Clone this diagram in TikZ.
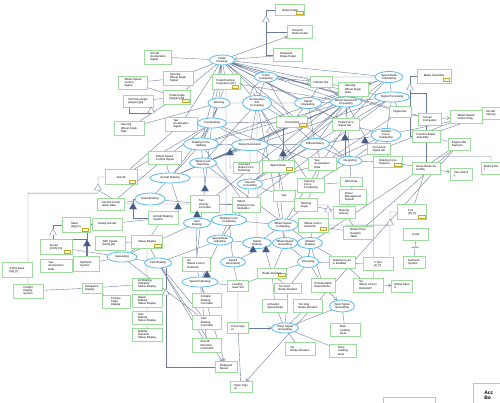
\documentclass[tikz,border=0pt]{standalone}
\usepackage{fontspec}
\setmainfont{Liberation Sans}
\usetikzlibrary{arrows.meta}
\usetikzlibrary{shapes.geometric}
\usetikzlibrary{shadows}
\definecolor{boxgreen}{rgb}{0.62, 0.86, 0.62}
\definecolor{ellblue}{rgb}{0.36, 0.74, 0.93}
\definecolor{linegray}{rgb}{0.42, 0.48, 0.6}
\definecolor{triblue}{rgb}{0.27, 0.36, 0.53}
\definecolor{notebrown}{rgb}{0.78, 0.66, 0.15}
\pgfdeclarelayer{bg}
\pgfsetlayers{bg,main}

\tikzset{
  box/.style={draw=boxgreen, line width=0.8pt, fill=white, align=left, inner sep=1pt,
    minimum width=13mm, minimum height=6mm,
    drop shadow={shadow xshift=0.45mm, shadow yshift=-0.45mm, fill=gray!60, opacity=1}},
  note/.style={path picture={\draw[notebrown, fill=yellow!15, line width=0.4pt]
    ([shift={(-4mm,0.7mm)}]path picture bounding box.south east) rectangle
    ([shift={(-0.9mm,2.2mm)}]path picture bounding box.south east);}},
  proc/.style={ellipse, draw=ellblue, line width=1.2pt, fill=white, align=center,
    inner sep=0pt, minimum width=12mm, minimum height=5mm},
  gen/.style={isosceles triangle, shape border rotate=90, isosceles triangle apex angle=60,
    draw=linegray, fill=white, line width=0.5pt, inner sep=0pt, minimum height=3mm},
  comp/.style={gen, draw=triblue, fill=triblue},
  conn/.style={draw=linegray, line width=0.55pt},
  navi/.style={conn, -{Straight Barb[length=1.2mm, width=1.8mm]}},
}

\begin{document}
\begin{tikzpicture}[x=0.5mm, y=-0.5mm, every node/.style={font=\fontsize{4}{4.5}\selectfont}]

\useasboundingbox (0,0) rectangle (500,402);
\clip (0,0) rectangle (500,402);

% brake pedal
\node[box, note, minimum width=14.5mm, minimum height=5.5mm] (brakepedal) at (290,10) {Brake Pedal};
\node[box, minimum width=12.5mm, minimum height=6.5mm] (pressed) at (300,32) {Pressed\\Brake Pedal};
\node[box, minimum width=14.5mm, minimum height=6.5mm] (released) at (288,55) {Released\\Brake Pedal};
\node[gen] (t1) at (266,20) {};

% signals, top left
\node[box, minimum width=13.5mm, minimum height=7mm] (acsig) at (158,57) {Aircraft\\Acceleration\\Signal};
\node[box, minimum width=14.5mm, minimum height=6.5mm] (wscsig) at (133,83) {Wheel Speed\\Control\\Signal};
\node[box, minimum width=15mm, minimum height=7mm] (swasig) at (178,78) {Steering\\Wheel Angle\\Signal};
\node[box, minimum width=15mm, minimum height=6mm] (oilangle) at (138,101) {Oil Press Angle\\{}[degree] [pl]};
\node[box, note, minimum width=13.5mm, minimum height=7mm] (pedalangle) at (177,97) {Pedal Angle\\{}[degree] [pl]};
\node[box, minimum width=15mm, minimum height=7mm] (swarate) at (129,128) {Steering\\Wheel Angle\\Rate};
\node[box, minimum width=16mm, minimum height=7mm] (yawsig) at (181,124) {Yaw\\Acceleration\\Signal};
\node[box, note, minimum width=14mm, minimum height=7.5mm] (ppfreq) at (226,82) {Pedal Pushing\\Frequency [Hz]};
\node[gen] (t3) at (151,111) {};

% top middle
\node[proc, minimum width=12.5mm] (pedalpress) at (222,60) {Pedal\\Pressing};
\node[proc, minimum width=11.5mm] (countcomp) at (266,77) {Count\\Computing};
\node[proc, minimum width=11mm] (warning) at (219,103) {Warning};
\node[proc, minimum width=14.5mm, minimum height=7.5mm] (accad) at (257,103) {Acceleration\\A/D\\Converting};
\node[proc, minimum width=13.5mm, minimum height=5.5mm] (sigrep) at (308,103) {Signal\\Repeating};
\node[proc, minimum width=14.5mm] (coord) at (212,123) {Coordinating};
\node[box, minimum width=11mm, minimum height=5.5mm] (filtered) at (321,82) {Filtered Out};
\node[box, note, minimum width=15.5mm, minimum height=5.5mm] (commands) at (292,122) {Commands};
\node[gen] (t9) at (254,91) {};
\node[gen] (t15) at (270,131) {};

% top right
\node[box, minimum width=15mm, minimum height=7mm] (swadata) at (353,89) {Steering\\Wheel Angle\\Data};
\node[proc, minimum width=15mm] (wsad) at (346,102) {Wheel Speed A/D\\Converting};
\node[proc, minimum width=14mm, minimum height=5.5mm] (sdcalc) at (389,77) {Speed Delta\\Calculating};
\node[proc, minimum width=17.5mm] (sigproc) at (392,97) {Signal Processing};
\node[box, note, minimum width=17mm, minimum height=7mm] (brakeasm) at (434,76) {Brake Assembly};
\node[gen] (t2) at (410,88) {};
\node[box, minimum width=11mm, minimum height=5.5mm] (digital) at (400,112) {Digital Set};
\node[box, minimum width=11.5mm, minimum height=6mm] (screen) at (430,119) {Screen\\Computers};
\node[box, minimum width=16mm, minimum height=6.5mm] (wscflag) at (466,117) {Wheel Speed\\Control Flag};
\node[box, minimum width=9mm, minimum height=6mm] (acvel) at (491,113) {Aircraft\\Velocity};
\node[box, minimum width=13.5mm, minimum height=6mm] (pfsig) at (346,124) {Pedal Force\\Signal Set};
\node[proc, minimum width=15mm, minimum height=6.5mm] (antiskid) at (386,135) {Antiskid\\Force\\Computing};
\node[box, minimum width=14mm, minimum height=6mm] (funcasm) at (426,136) {Function Brake\\Assembly};
\node[box, minimum width=11mm, minimum height=6mm] (engine) at (459,144) {Engine Idle\\Stall pos};
\node[box, minimum width=11.5mm, minimum height=5.5mm] (convsig) at (379,149) {Converted\\Signal Set};
\node[proc, minimum width=12mm, minimum height=4.5mm] (integrating) at (350,161) {Integrating};
\node[box, note, minimum width=14.5mm, minimum height=5.5mm] (bfreq) at (388,162) {Braking Force\\Request};
\node[box, minimum width=14mm, minimum height=6mm] (activeasm) at (426,168) {Active Brake As\\sembly};
\node[box, minimum width=11mm, minimum height=6mm] (yawvel) at (461,174) {Yaw Velocit\\y};
\node[box, minimum width=9.5mm, minimum height=6mm] (brakedist) at (491,168) {Braking Dis\\t};
\node[comp] (f9) at (345,138) {};
\node[comp] (f10) at (365,141) {};

% centre
\node[box, minimum width=16.5mm, minimum height=6.5mm] (wscsig2) at (165,158) {Wheel Speed\\Control Signal};
\node[proc, minimum width=17.5mm, minimum height=6mm] (bfsplit) at (201,144) {Braking Force\\Splitting};
\node[proc, minimum width=13.5mm] (wldetect) at (203,163) {Wheel Lock\\Detecting};
\node[proc, minimum width=20mm] (acbraking) at (170,178) {Aircraft Braking};
\node[proc, minimum width=18.5mm, minimum height=5.5mm] (siggen) at (250,145) {Signal Generation};
\node[box, minimum width=13mm, minimum height=5.5mm] (unlocked) at (246,168) {Unlocked\\Brake Force\\Detecting};
\node[box, note, minimum width=16mm, minimum height=6mm] (speeddelta) at (278,166) {Speed Delta};
\node[proc, minimum width=14.5mm, minimum height=5.5mm] (diff) at (315,144) {Differentiating};
\node[box, minimum width=14mm, minimum height=6.5mm] (yawacdata) at (322,164) {Yaw\\Acceleration\\Data};
\node[proc, minimum width=12.5mm] (yawad) at (250,184) {Yaw A/D\\Converting};
\node[box, minimum width=11mm, minimum height=5.5mm] (yaw) at (284,196) {Yaw};
\node[box, minimum width=13.5mm, minimum height=7mm] (sfcomp) at (311,185) {Steering\\Force\\Computing};
\node[box, minimum width=11.5mm, minimum height=6.5mm] (steerangle) at (306,205) {Steering\\Angle};
\node[box, minimum width=11mm, minimum height=4.5mm] (absdata) at (351,182) {ABS Data};
\node[box, minimum width=13.5mm, minimum height=7.5mm] (powermgmt) at (353,197) {Power\\Management\\System};
\node[box, minimum width=11mm, minimum height=6mm] (steervel) at (344,212) {Steering\\Velocity};
\node[gen] (t11) at (328,210) {};
\node[comp] (f1) at (230,153) {};
\node[comp] (f2) at (283,154) {};

\node[box, minimum width=14.5mm, minimum height=8.5mm] (taxivel) at (205,204) {Taxi\\Velocity\\Controller};
\node[box, minimum width=14mm, minimum height=7.5mm] (wbfmod) at (246,205) {Wheel\\Braking Force\\Modulator};
\node[proc, minimum width=13.5mm] (autobrk) at (197,223) {Auto\\Braking};
\node[proc, minimum width=17.5mm, minimum height=5.5mm] (bfcomp) at (229,220) {Braking Force\\Computing};
\node[proc, minimum width=15mm, minimum height=6mm] (wscomp) at (283,225) {Wheel Speed\\Computing};
\node[box, note, minimum width=15mm, minimum height=7mm] (wldetected) at (313,225) {Wheel Lock is\\Detected};
\node[proc, minimum width=13mm] (sdadjust) at (220,240) {Speed Delta\\Adjusting};
\node[proc, minimum width=14.5mm, minimum height=5.5mm] (sigfilt) at (257,243) {Signal\\Filtering};
\node[proc, minimum width=12.5mm, minimum height=5.5mm] (wsgen) at (285,243) {Wheel Speed\\Generating};
\node[proc, minimum width=12.5mm, minimum height=5.5mm] (askbrk) at (310,243) {Antiskid\\Braking};
\node[box, minimum width=15mm, minimum height=6.5mm] (pulsetable) at (358,233) {Brake Pulse\\Duration\\Table};
\node[comp] (f3) at (205,189) {};
\node[comp] (f4) at (178,207) {};
\node[comp] (f5) at (197,215) {};

% tyre and pulse
\node[box, note, minimum width=14.5mm, minimum height=7.5mm] (tyre) at (412,212) {Tyre\\{}[\%] [?]};
\node[gen] (t6) at (390,223) {};
\node[box, minimum width=12.5mm, minimum height=6mm] (pulse) at (416,234) {Pulse};
\node[box, minimum width=11mm, minimum height=6mm] (hydraulic) at (414,262) {Hydraulic\\System};
\node[box, minimum width=15mm, minimum height=6.5mm] (ntyre) at (378,264) {\# Tyre\\{}[s] [?]};

% left side
\node[box, note, minimum width=16mm, minimum height=7.5mm] (aircraft) at (121,177) {Aircraft};
\node[gen] (t4) at (98,188) {};
\node[proc, minimum width=15mm, minimum height=6mm] (pedalbrk) at (150,199) {Pedal Braking};
\node[box, minimum width=13.5mm, minimum height=6mm] (acaccdata) at (111,204) {Aircraft Accele\\ration Data};
\node[box, minimum width=15mm, minimum height=6.5mm] (acbrakesys) at (163,218) {Aircraft Braking\\System};
\node[box, minimum width=15mm, minimum height=6mm] (taxiing) at (107,224) {Taxiing Aircraft};
\node[box, note, minimum width=14mm, minimum height=7.5mm] (mass) at (76,225) {Mass\\{}[kg] [m]};
\node[gen] (t5) at (53,233) {};
\node[box, minimum width=15mm, minimum height=7mm] (absspeed) at (110,243) {ABS Speed\\{}[km/h] [kt]};
\node[comp] (f8) at (87,244) {};
\node[comp] (f6) at (133,207) {};
\node[box, note, minimum width=16mm, minimum height=7.5mm] (speed) at (56,247) {Speed\\{}[km/h] [m]};
\node[box, note, minimum width=15.5mm, minimum height=6.5mm] (statusdisp) at (147,242) {Status Display};
\node[proc, minimum width=15mm] (separating) at (122,257) {Separating};
\node[proc, minimum width=13.5mm] (parkbrk) at (158,263) {Park Braking};
\node[box, minimum width=16mm, minimum height=6.5mm] (yawacrate) at (56,266) {Yaw\\Acceleration\\Rate};
\node[box, minimum width=13mm, minimum height=7.5mm] (hydraulic2) at (86,264) {Hydraulic\\System};
\node[box, minimum width=15mm, minimum height=7.5mm] (stds) at (17,270) {STDS Base\\{}[kg] [?]};

% displays
\node[box, minimum width=15mm, minimum height=7mm] (cockpit) at (28,291) {Cockpit\\Display\\System};
\node[box, minimum width=10mm, minimum height=5mm] (navdisp) at (92,288) {Navigation\\Display};
\node[box, minimum width=14mm, minimum height=6.5mm] (pfd) at (116,302) {Primary\\Flight\\Display};
\node[box, minimum width=15mm, minimum height=6mm] (airbrkdisp) at (147,284) {Air Braking\\Indication\\Status Display};
\node[box, minimum width=15mm, minimum height=6.5mm] (rapiddisp) at (147,301) {Rapid\\Braking\\Status Display};
\node[box, minimum width=15mm, minimum height=6.5mm] (autodisp) at (147,318) {Auto\\Braking\\Status Display};
\node[box, minimum width=15mm, minimum height=6.5mm] (pressdisp) at (147,335) {Braking\\Pressure\\Status Display};
\node[gen] (t7) at (166,293) {};

% lower middle
\node[box, minimum width=14mm, minimum height=7mm] (nolockb) at (196,264) {No\\Wheel Lock is\\Detected};
\node[proc, minimum width=12.5mm] (spdgen) at (233,262) {Speed\\Generating};
\node[proc, minimum width=10.5mm, minimum height=5.5mm] (unlocking) at (308,262) {Unlocking};
\node[box, minimum width=13mm, minimum height=6mm] (brakegiven) at (342,262) {Braking Count\\is Enabled};
\node[proc, minimum width=18mm] (spdind) at (200,282) {Speed Indicating};
\node[comp] (f11) at (207,275) {};
\node[comp] (f12) at (253,250) {};
\node[comp] (f13) at (266,250) {};
\node[box, note, minimum width=14.5mm, minimum height=5mm] (brakedur) at (272,273) {Brake Duration};
\node[box, minimum width=10.5mm, minimum height=5.5mm] (lgset) at (238,286) {Landing\\Gear Set};
\node[box, minimum width=13.5mm, minimum height=5mm] (tooshort) at (288,288) {Too short\\Brake Duration};
\node[box, minimum width=12mm, minimum height=7mm] (precalc) at (323,285) {Precalculated\\Speed Delta};
\node[box, minimum width=15mm, minimum height=7mm] (nolock) at (368,285) {No\\Wheel Lock is\\Detected?};
\node[box, minimum width=10.5mm, minimum height=6mm] (wspeed) at (402,286) {Wheel Spee\\d};
\node[box, minimum width=14.5mm, minimum height=7mm] (abrkctrl) at (207,300) {Antiskid\\Braking\\Controller};
\node[box, minimum width=12.5mm, minimum height=6.5mm] (activated) at (275,306) {Activated\\Speed Delta};
\node[box, minimum width=14.5mm, minimum height=6.5mm] (toolong) at (308,306) {Too long\\Brake Duration};
\node[proc, minimum width=12.5mm, minimum height=6mm] (opengen) at (342,306) {Open Signal\\Generating};
\node[box, minimum width=14.5mm, minimum height=7mm] (pbrkctrl) at (207,322) {Park\\Braking\\Controller};
\node[box, minimum width=10.5mm, minimum height=5.5mm] (closesig) at (238,328) {Close Sign\\al};
\node[proc, minimum width=13.5mm] (closegen) at (285,328) {Close Signal\\Generating};
\node[box, minimum width=15mm, minimum height=6.5mm] (mainlg) at (345,330) {Main\\Landing\\Gear};
\node[box, minimum width=14.5mm, minimum height=7mm] (acdircmd) at (207,345) {Aircraft\\Directing\\Command};
\node[box, minimum width=15mm, minimum height=6.5mm] (nobrakedur) at (300,349) {No\\Brake Duration};
\node[box, minimum width=13.5mm, minimum height=6.5mm] (noselg) at (343,351) {Nose\\Landing\\Gear};
\node[box, minimum width=11mm, minimum height=5.5mm] (dispspeed) at (226,367) {Displayed\\Speed};
\node[box, minimum width=11mm, minimum height=5.5mm] (opensig) at (241,387) {Open Sign\\al};

% cut at the lower edge
\node[box, anchor=north west, minimum width=26mm, minimum height=8mm] (lowerbox) at (383,397) {};
\node[box, anchor=north west, minimum width=16mm, minimum height=12mm, inner xsep=5.5mm, inner ysep=1mm,
  font=\fontsize{7}{8}\selectfont\bfseries, text width=8mm] (accbox) at (473,383) {Acc\\Bo};

\begin{pgfonlayer}{bg}
% generalisations
\draw[conn] (t1.apex) |- (brakepedal.west) (t1.lower side) |- (pressed.west) (t1.lower side) |- (released.west);
\draw[conn] (t2.apex) |- (brakeasm.west) (t2.lower side) |- (funcasm.west) (t2.lower side) -- ++(0,3) -| (activeasm.north);
\draw[conn] ([xshift=3mm]oilangle.south west) |- (t3.lower side);
\draw[conn] (t4.apex) |- (aircraft.west) (t4.lower side) -- ++(0,3) -| (cockpit.north) (t4.lower side) -- (acaccdata.north);
\draw[conn] (t5.apex) |- (mass.west) (t5.lower side) |- (speed.north) (t5.lower side) -- ++(0,4) -| (hydraulic2.north);
\draw[conn] (t6.apex) |- (tyre.west) (t6.lower side) |- (ntyre.north) (wldetected.east) -- (t6.lower side);
\draw[conn] (t7.apex) -- (t7.apex |- parkbrk.south) (t7.lower side) |- (dispspeed.west);
\draw[conn] (t9.apex) -- (countcomp) (t9.lower side) -- (accad);
\draw[conn] (t11.apex) |- (steerangle.east) (t11.lower side) -- (wldetected.north east);
\draw[conn] (t15.apex) -- (accad) (t15.lower side) -- (speeddelta.north west);

% compositions
\draw[conn] (f1.apex) -- (siggen) (f1.lower side) |- (unlocked.west);
\draw[conn] (f2.apex) -- (f2.apex |- commands.south) (f2.lower side) |- (speeddelta.north);
\draw[conn] (f3.apex) -- (wldetect) (f3.lower side) -- (taxivel);
\draw[conn] (f4.apex) -- (acbraking) (f4.lower side) -- (acbrakesys.north east);
\draw[conn] (f5.apex) -- (taxivel) (f5.lower side) -- (autobrk);
\draw[conn] (f6.apex) |- (pedalbrk.west) (f6.lower side) |- (acbrakesys.west);
\draw[conn] (f8.apex) |- (taxiing.west) (f8.lower side) |- (hydraulic2.north);
\draw[conn] (f9.apex) -- (f9.apex |- pfsig.south) (f9.lower side) |- (integrating.north);
\draw[conn] (f10.apex) -- (wsad) (f10.lower side) -- (convsig);
\draw[conn] (f11.apex) -- (nolockb) (f11.lower side) -- (spdind);
\draw[conn] (f12.apex) -- (sigfilt) (f12.lower side) -- (spdgen) (f13.apex) -- (sigfilt) (f13.lower side) -- (brakedur);

% pedal pressing
\draw[navi] (pedalpress) -- (pressed);
\draw[navi] (released) -- (pedalpress);
\draw[conn] (pedalpress) -- (acsig) (pedalpress) -- (swasig) (pedalpress) -- (pedalangle) (pedalpress) -- (ppfreq)
  (pedalpress) -- (warning) (pedalpress) -- (coord) (pedalpress) -- (countcomp) (pedalpress) -- (accad)
  (pedalpress) -- (sigrep) (pedalpress) -- (wsad) (pedalpress) -- (sdcalc) (pedalpress) -- (digital)
  (pedalpress) -- (bfsplit) (pedalpress) -- (yawsig) (pedalpress) -- (swadata) (pedalpress) -- (pfsig)
  (pedalpress) -- (screen) (pedalpress) -- (diff) (pedalpress) -- (integrating);
\draw[conn] (wscsig) -- (swasig) (swarate) -- (warning) (yawsig) -- (coord) (oilangle) -- (pedalangle)
  (wscsig) -- (pedalangle) (swarate) -- (pedalangle);

% top middle
\draw[navi] (countcomp) -- (filtered);
\draw[conn] (countcomp) -- (accad) (countcomp) -- (commands) (countcomp) -- (sdcalc) (countcomp) -- (sigproc)
  (warning) -- (coord) (warning) -- (accad) (warning) -- (bfsplit) (warning) -- (ppfreq)
  (ppfreq.south) -- (ppfreq.south |- bfcomp.north) (ppfreq) -- (wsad);
\draw[conn] (accad) -- (sigrep) (accad) -- (commands) (accad) -- (siggen) (accad) -- (wldetect)
  (accad.south) -- (accad.south |- sigfilt.north) (accad) -- (wsgen) (accad) -- (sfcomp)
  (sigrep) -- (filtered) (sigrep) -- (wsad) (sigrep) -- (diff) (sigrep) -- (commands) (sigrep) -- (swadata);
\draw[conn] (coord) -- (bfsplit) (coord) -- (acbraking) (coord) -- (wscsig2) (coord) -- (siggen)
  (coord) -- (commands) (coord) -- (nolockb) (coord) -- (yawacdata);

% top right
\draw[navi] (sdcalc) -- (swadata);
\draw[conn] (wsad) -- (swadata) (wsad) -- (sigproc) (wsad) -- (pfsig) (wsad) -- (integrating)
  (wsad) -- (diff) (wsad) -- (siggen) (wsad) -- (bfsplit) (wsad) -- (wldetect) (wsad) -- (speeddelta)
  (wsad) -- (acbraking) (wsad) -- (yawad);
\draw[conn] (sdcalc) -- (sigproc) (sdcalc) -- (pfsig) (sdcalc) -- (bfsplit) (sigproc) -- (digital)
  (sigproc) -- (antiskid) (sigproc) -- (pfsig) (sigproc) -- (wldetect) (sigproc) -- (wbfmod)
  (digital) -- (screen) (digital) -- (yawacdata) (acvel) -- (funcasm) (swadata) -- (siggen)
  (pfsig) -- (speeddelta) (filtered) -- (wsad) (wscflag) -- (integrating) (swadata) -- (taxivel)
  (pfsig) -- (wscomp) (sdcalc) -- (yawad);
\draw[navi] (screen) -- (wscflag);
\draw[conn] (funcasm) -- (engine) (antiskid) -- (integrating) (antiskid) -- (bfreq) (antiskid) -- (diff)
  (antiskid) -- (pfsig) (antiskid) -- (yawacdata) (acvel) -- (antiskid);
\draw[conn] (integrating) -- (bfreq) (integrating) -- (yawacdata) (integrating) -- (absdata)
  (integrating) -- (diff) (integrating) -- (sfcomp);
\draw[conn] (bfreq) -- (activeasm) (bfreq.north east) -| (brakedist.north) (activeasm) -- (tyre)
  (bfreq.south west) -- (bfreq.south west |- nolock.north);
\draw[navi] (activeasm) -- (yawvel);
\draw[conn] (engine) -- (askbrk) (engine) -- (pulsetable);
\draw[navi] (engine) -- (opensig);

% centre
\draw[conn] (diff) -- (yawacdata) (diff) -- (speeddelta) (diff) -- (siggen)
  (siggen) -- (speeddelta) (siggen) -- (wldetect) (siggen) -- (bfsplit) (siggen) -- (yawad)
  (speeddelta) -- (yawad) (speeddelta) -- (yaw) (speeddelta) -- (wscomp)
  (yawacdata) -- (steerangle) (yawacdata) -- (yawad) (yawad) -- (wbfmod) (yawad) -- (yaw)
  (yaw) -- (steerangle) (sfcomp) -- (absdata) (sfcomp) -- (yaw) (absdata) -- (powermgmt)
  (powermgmt) -- (steervel) (steerangle) -- (steervel) (pulsetable) -- (steervel) (pulsetable) -- (wldetected);
\draw[conn] (bfsplit) -- (wldetect) (bfsplit) -- (acbraking) (wldetect) -- (acbraking)
  (acbraking) -- (pedalbrk) (acbraking) -- (wscsig2) (aircraft) -- (yawsig) (aircraft) -- (coord)
  (acaccdata) -- (wscsig2) (pedalbrk) -- (taxivel) (pedalbrk) -- (acaccdata)
  (acaccdata.east) -- (acaccdata.east -| wbfmod.west) (taxivel) -- (wbfmod)
  (aircraft.east) -- (aircraft.east -| unlocked.west) (bfsplit) -- (wbfmod);
\draw[conn] (wbfmod) -- (bfcomp) (wbfmod) -- (sdadjust) (autobrk) -- (bfcomp) (autobrk) -- (nolockb)
  (autobrk) -- (separating) (bfcomp) -- (wscomp) (bfcomp) -- (sdadjust) (bfcomp) -- (spdgen)
  (wscomp) -- (wldetected) (wscomp) -- (sigfilt) (wscomp) -- (wsgen) (wscomp) -- (steerangle)
  (wldetected) -- (unlocking) (wldetect) -- (askbrk);
\draw[conn] (sdadjust) -- (sigfilt) (sdadjust) -- (spdind) (sdadjust) -- (parkbrk) (sigfilt) -- (wsgen)
  (wsgen) -- (askbrk) (wsgen) -- (brakedur) (wsgen) -- (unlocking)
  (askbrk) -- (brakegiven) (askbrk) -- (precalc) (askbrk) -- (unlocking) (ntyre) -- (unlocking)
  (unlocking) -- (brakedur) (unlocking) -- (tooshort) (unlocking) -- (precalc) (brakegiven) -- (nolock);
\draw[navi] (nolock) -- (wspeed);
\draw[conn] (pulse) -- node[fill=white, inner sep=0.3pt, font=\fontsize{3}{3.5}\selectfont] (pulselbl) {controls} (hydraulic);

% lower part
\draw[navi] (precalc) -- (opengen);
\draw[navi] (closesig) -- (closegen);
\draw[conn] (opengen) -- (mainlg) (opengen) -- (closegen) (closegen) -- (noselg)
  (closegen) -- (activated) (closegen) -- (toolong) (closegen) -- (nobrakedur) (closegen) -- (tooshort)
  (brakedur) -- (tooshort) (brakedur) -- (lgset) (brakedur) -- (activated)
  (spdgen) -- (lgset) (lgset) -- (closesig) (closesig) -- (opensig)
  (spdind) -- (nolockb) (spdind) -- (abrkctrl) (spdind) -- (lgset) (spdind) -- (acdircmd);
\draw[navi] (spdind) -- (dispspeed);
\draw[navi] (parkbrk) -- (dispspeed);
\draw[conn] (parkbrk) -- (separating) (parkbrk) -- (statusdisp) (parkbrk) -- (pbrkctrl) (parkbrk) -- (acdircmd)
  (separating) -- (statusdisp) (separating) -- (absspeed) (separating) -- (hydraulic2)
  (separating) -- (pbrkctrl) (separating) -- (speed) (statusdisp) -- (acbrakesys) (statusdisp) -- (absspeed)
  (taxiing) -- (acbrakesys) (taxiing) -- (mass);
\draw[conn] (statusdisp) -- (airbrkdisp) (airbrkdisp) -- (rapiddisp) (rapiddisp) -- (autodisp)
  (autodisp) -- (pressdisp) (cockpit) -- (navdisp) (navdisp) -- (airbrkdisp) (navdisp) -- (pfd);
\end{pgfonlayer}

\end{tikzpicture}
\end{document}
